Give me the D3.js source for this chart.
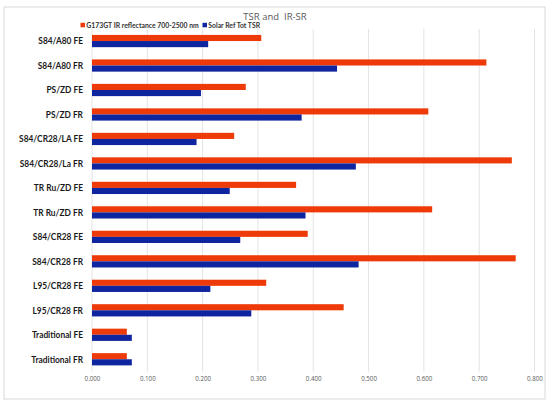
<!DOCTYPE html>
<html>
<head>
<meta charset="utf-8">
<script src="https://cdn.jsdelivr.net/npm/d3@7"></script>
<style>
  html, body { margin: 0; padding: 0; background: #fff; }
  #chart { width: 550px; height: 407px; }
</style>
</head>
<body>
<div id="chart"></div>
<script>
// data
const categories = [
  "S84/A80 FE", "S84/A80 FR", "PS/ZD FE", "PS/ZD FR",
  "S84/CR28/LA FE", "S84/CR28/La FR", "TR Ru/ZD FE", "TR Ru/ZD FR",
  "S84/CR28 FE", "S84/CR28 FR", "L95/CR28 FE", "L95/CR28 FR",
  "Traditional FE", "Traditional FR"
];
const irReflectance = [0.306, 0.713, 0.278, 0.608, 0.257, 0.759, 0.369, 0.615, 0.390, 0.766, 0.315, 0.455, 0.063, 0.063];
const solarTSR = [0.210, 0.443, 0.197, 0.379, 0.189, 0.477, 0.249, 0.386, 0.268, 0.482, 0.214, 0.288, 0.072, 0.072];
const seriesNames = ["G173GT IR reflectance 700-2500 nm", "Solar Ref Tot TSR"];
const seriesColors = ["#ee3a08", "#0f249f"];
const xTicks = [0, 0.1, 0.2, 0.3, 0.4, 0.5, 0.6, 0.7, 0.8];
const chartTitle = "TSR and  IR-SR";

// -------------------------------
// Layout
// -------------------------------
const width = 550, height = 407;
const plot = { left: 92, right: 534.5, top: 28.8, bottom: 371.5 };
// Lato squeezed a bit to get close to the narrow Calibri look
const labelFont = "Lato, sans-serif";
const squeeze = 0.82;

const svg = d3.select("#chart").append("svg")
  .attr("width", width)
  .attr("height", height);

svg.append("rect")
  .attr("x", 0).attr("y", 0).attr("width", width).attr("height", height)
  .attr("fill", "#fff");

// chart frame
svg.append("rect")
  .attr("x", 4).attr("y", 7).attr("width", 541).attr("height", 392)
  .attr("fill", "none")
  .attr("stroke", "#d9d9d9")
  .attr("stroke-width", 1);

// -------------------------------
// Scales
// -------------------------------
const xScale = d3.scaleLinear().domain([0, 0.8]).range([plot.left, plot.right]);

const yScale = d3.scaleBand()
  .domain(categories)
  .range([plot.top, plot.bottom])
  .paddingInner(0.5)
  .paddingOuter(0.25);

const seriesScale = d3.scaleBand()
  .domain([0, 1])
  .range([0, yScale.bandwidth()]);

// gridlines
svg.append("g")
  .selectAll("line")
  .data(xTicks)
  .join("line")
  .attr("x1", d => xScale(d)).attr("x2", d => xScale(d))
  .attr("y1", plot.top).attr("y2", plot.bottom)
  .attr("stroke", "#e3e3e3")
  .attr("stroke-width", 1);

// x axis labels
const xAxis = d3.axisBottom(xScale)
  .tickValues(xTicks)
  .tickFormat(d3.format(".3f"))
  .tickSize(0)
  .tickPadding(0);

const xAxisG = svg.append("g")
  .attr("transform", `translate(0, ${plot.bottom + 5})`)
  .call(xAxis);
xAxisG.select(".domain").remove();
xAxisG.selectAll("text")
  .attr("font-family", "'Open Sans', sans-serif")
  .attr("font-size", 6.2)
  .attr("fill", "#595959");

// category labels
const yAxis = d3.axisLeft(yScale).tickSize(0).tickPadding(9 / squeeze);
const yAxisG = svg.append("g")
  .attr("transform", `translate(${plot.left}, 0)`)
  .call(yAxis);
yAxisG.select(".domain").remove();
yAxisG.selectAll("text")
  .attr("transform", `scale(${squeeze},1)`)
  .attr("font-family", labelFont)
  .attr("font-weight", "bold")
  .attr("font-size", 10.2)
  .attr("fill", "#1a1a1a");

// -------------------------------
// Bars
// -------------------------------
const seriesData = [irReflectance, solarTSR];

seriesData.forEach((values, s) => {
  svg.append("g")
    .selectAll("rect")
    .data(values)
    .join("rect")
    .attr("x", xScale(0))
    .attr("y", (d, i) => yScale(categories[i]) + seriesScale(s))
    .attr("width", d => xScale(d) - xScale(0))
    .attr("height", seriesScale.bandwidth())
    .attr("fill", seriesColors[s]);
});

// -------------------------------
// Title and legend
// -------------------------------
svg.append("text")
  .attr("x", 275).attr("y", 20)
  .attr("text-anchor", "middle")
  .attr("font-family", "'Open Sans', sans-serif")
  .attr("font-size", 9.5)
  .attr("fill", "#595959")
  .style("white-space", "pre")
  .text(chartTitle);

const legendX = [80.5, 202.5];
const legend = svg.append("g");
seriesNames.forEach((name, s) => {
  legend.append("rect")
    .attr("x", legendX[s]).attr("y", 22.8)
    .attr("width", 4.5).attr("height", 4.5)
    .attr("fill", seriesColors[s]);
  legend.append("text")
    .attr("transform", `translate(${legendX[s] + 5.8}, 27.8) scale(0.9,1)`)
    .attr("font-family", labelFont)
    .attr("font-weight", "bold")
    .attr("font-size", 7.6)
    .attr("fill", "#333")
    .text(name);
});
</script>
</body>
</html>
